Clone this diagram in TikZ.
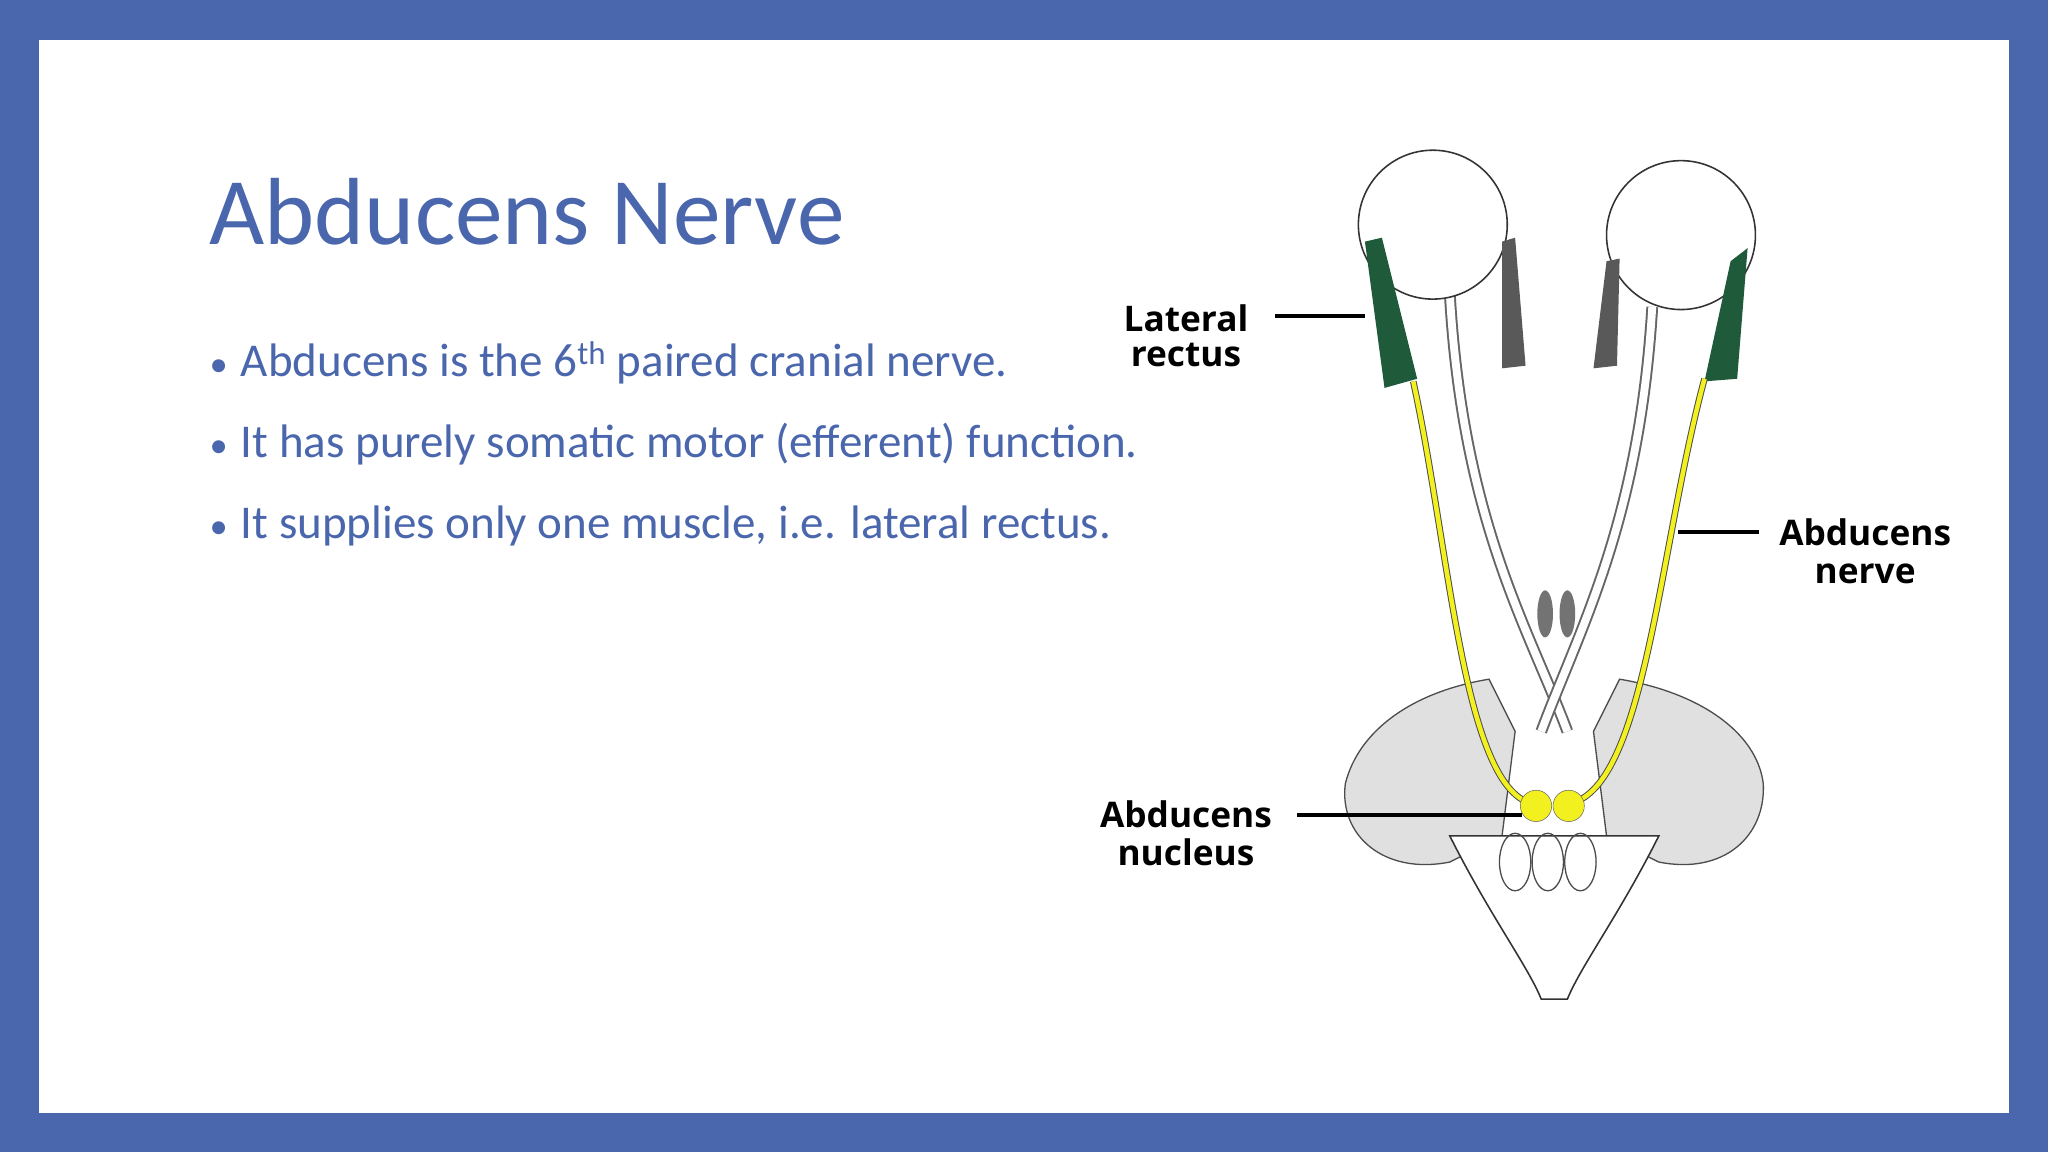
\documentclass[tikz,border=0pt]{standalone}
\usepackage{fontspec}
\setmainfont{Carlito}
\newfontfamily\lblfont{Open Sans}
\definecolor{frame}{HTML}{4A66AC}
\definecolor{musc}{HTML}{1F5A3A}
\definecolor{nerv}{HTML}{F2F01E}
\newcommand{\mybul}{{\fontsize{28}{30}\selectfont\textbullet}\hspace{10pt}}
\begin{document}
\begin{tikzpicture}[x=1pt,y=-1pt,
  lbl/.style={font=\lblfont\bfseries\fontsize{27}{31}\selectfont,align=center,text=black},
  bul/.style={anchor=base west,font=\fontsize{36}{42}\selectfont,text=frame},
  anat/.style={draw=black!80,line width=1.2pt,fill=white},
  gr/.style={draw=black!70,line width=1pt,fill=black!12}]
\useasboundingbox (0,0) rectangle (1568,882);
\fill[frame] (0,0) rectangle (1568,882);
\fill[white] (30,31) rectangle (1538,852);
\node[anchor=base west,font=\fontsize{73}{80}\selectfont,text=frame] (title) at (157,187) {Abducens Nerve};
\node[bul] (b1) at (157,288) {\mybul Abducens is the 6\textsuperscript{th} paired cranial nerve.};
\node[bul] (b2) at (157,350) {\mybul It has purely somatic motor (efferent) function.};
\node[bul] (b3) at (157,412) {\mybul It supplies only one muscle, i.e. lateral rectus.};
% brainstem lobes
\path[gr] (1140,520) .. controls (1080,530) and (1040,560) .. (1030,600) .. controls (1025,640) and (1060,670) .. (1110,660) -- (1150,640) -- (1160,560) -- cycle;
\path[gr] (1240,520) .. controls (1300,530) and (1345,560) .. (1350,600) .. controls (1352,640) and (1320,670) .. (1270,660) -- (1230,640) -- (1220,560) -- cycle;
\path[anat] (1110,640) .. controls (1140,700) and (1170,740) .. (1180,765) -- (1200,765) .. controls (1210,740) and (1240,700) .. (1270,640) -- cycle;
\foreach \x in {1160,1185,1210} \draw[black!70,line width=1pt] (\x,660) ellipse (12 and 22);
% optic nerves
\draw[black!60,line width=9pt] (1110,225) .. controls (1120,400) and (1170,480) .. (1200,560);
\draw[white,line width=6pt] (1110,225) .. controls (1120,400) and (1170,480) .. (1200,560);
\draw[black!60,line width=9pt] (1265,235) .. controls (1255,400) and (1210,480) .. (1180,560);
\draw[white,line width=6pt] (1265,235) .. controls (1255,400) and (1210,480) .. (1180,560);
\fill[black!55] (1183,470) ellipse (6 and 18);
\fill[black!55] (1200,470) ellipse (6 and 18);
% eyes
\draw[anat] (1097,172) circle (57);
\draw[anat] (1287,180) circle (57);
\fill[musc] (1045,185) -- (1058,182) -- (1085,290) -- (1060,297) -- cycle;
\fill[musc] (1338,190) -- (1330,290) -- (1305,292) -- (1325,200) -- cycle;
\fill[black!65] (1150,185) -- (1160,182) -- (1168,280) -- (1150,282) -- cycle;
\fill[black!65] (1230,200) -- (1240,198) -- (1238,280) -- (1220,282) -- cycle;
% nerves
\draw[black!70,line width=5pt] (1082,292) .. controls (1110,420) and (1120,600) .. (1172,615);
\draw[nerv,line width=3.5pt] (1082,292) .. controls (1110,420) and (1120,600) .. (1172,615);
\draw[black!70,line width=5pt] (1305,290) .. controls (1270,420) and (1260,600) .. (1203,615);
\draw[nerv,line width=3.5pt] (1305,290) .. controls (1270,420) and (1260,600) .. (1203,615);
\fill[nerv,draw=black!60] (1176,617) circle (12);
\fill[nerv,draw=black!60] (1201,617) circle (12);
\coordinate (lr) at (1045,242); \coordinate (an) at (1285,407); \coordinate (nu) at (1165,624);
% labels
\node[lbl] (l1) at (908,257) {Lateral\\[-4pt]rectus};
\node[lbl] (l2) at (1428,422) {Abducens\\[-2pt]nerve};
\node[lbl] (l3) at (908,638) {Abducens\\[-2pt]nucleus};
\draw[line width=3pt] (976,242) -- (lr);
\draw[line width=3pt] (1347,407) -- (an);
\draw[line width=3pt] (993,624) -- (nu);
\end{tikzpicture}
\end{document}
